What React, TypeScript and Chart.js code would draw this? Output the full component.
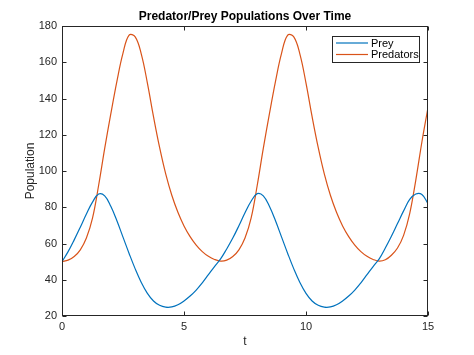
import React, { useEffect, useRef } from "react";
import { Chart, registerables } from "chart.js";

Chart.register(...registerables);

const timeValues = [
  0, 0.25, 0.5, 0.75, 1, 1.25, 1.5, 1.75, 2, 2.25, 2.5, 2.75, 3, 3.25, 3.5, 3.75,
  4, 4.25, 4.5, 4.75, 5, 5.25, 5.5, 5.75, 6, 6.25, 6.5, 6.75, 7, 7.25, 7.5, 7.75,
  8, 8.25, 8.5, 8.75, 9, 9.25, 9.5, 9.75, 10, 10.25, 10.5, 10.75, 11, 11.25, 11.5,
  11.75, 12, 12.25, 12.5, 12.75, 13, 13.25, 13.5, 13.75, 14, 14.25, 14.5, 14.75, 15,
];

const preyValues = [
  50, 55.5, 62, 69, 76.3, 82.8, 87.3, 86.3, 80.5, 72.5, 63.5, 54.5, 46, 38.5, 32.5, 28.3,
  25.9, 24.9, 25, 26.2, 28.3, 31, 34.3, 38.3, 42.8, 47.3,
  51.5, 57, 63, 69.8, 77, 83.3, 87.5, 86.3, 80.5, 72.5, 63.5, 54.5, 46, 38.5, 32.5, 28.3,
  25.9, 24.9, 25, 26.2, 28.3, 31, 34.3, 38.3, 42.8, 47.3,
  51.5, 57.5, 64, 71, 78, 84.3, 87.3, 87, 82,
];

const predatorValues = [
  50, 50.8, 52.8, 56.5, 63, 74, 92, 112.5, 131.5, 149.5, 165, 175, 174, 164.5, 148.5, 130,
  113, 98.4, 86.6, 77.2, 69.7, 63.8, 59.1, 55.5, 52.9, 51.2,
  50.3, 50.8, 52.8, 56.5, 63, 74, 92, 112.5, 131.5, 149.5, 165, 175, 174, 164.5, 148.5, 130,
  113, 98.4, 86.6, 77.2, 69.7, 63.8, 59.1, 55.5, 52.9, 51.2,
  50.3, 51, 53.5, 57.5, 64.5, 76.5, 95, 116, 135,
];

const xTickValues = [0, 5, 10, 15];
const yTickValues = [20, 40, 60, 80, 100, 120, 140, 160, 180];
const seriesLabels = ["Prey", "Predators"];
const seriesColors = ["#0072BD", "#D95319"];
const chartTitle = "Predator/Prey Populations Over Time";
const xAxisTitle = "t";
const yAxisTitle = "Population";

const FONT = '"Liberation Sans", Arial, Helvetica, sans-serif';
const AXIS_COLOR = "#262626";

const decorPlugin = {
  id: "matlabDecor",
  afterDatasetsDraw(chart: any) {
    const { ctx, chartArea: a, scales } = chart;
    const L = Math.round(a.left) + 0.5;
    const R = Math.round(a.right) - 0.5;
    const T = Math.round(a.top) + 0.5;
    const B = Math.round(a.bottom) - 0.5;
    ctx.save();
    ctx.strokeStyle = AXIS_COLOR;
    ctx.lineWidth = 1;
    ctx.strokeRect(L, T, R - L, B - T);
    const tl = 4;
    ctx.beginPath();
    xTickValues.forEach((v) => {
      const px = Math.round(scales.x.getPixelForValue(v)) + 0.5;
      ctx.moveTo(px, B);
      ctx.lineTo(px, B - tl);
      ctx.moveTo(px, T);
      ctx.lineTo(px, T + tl);
    });
    yTickValues.forEach((v) => {
      const py = Math.round(scales.y.getPixelForValue(v)) + 0.5;
      ctx.moveTo(L, py);
      ctx.lineTo(L + tl, py);
      ctx.moveTo(R, py);
      ctx.lineTo(R - tl, py);
    });
    ctx.stroke();

    // legend
    const lx = 332.5, ly = 36.5, lw = 87, lh = 26;
    ctx.fillStyle = "#ffffff";
    ctx.fillRect(lx, ly, lw, lh);
    ctx.strokeStyle = AXIS_COLOR;
    ctx.strokeRect(lx, ly, lw, lh);
    ctx.font = `11px ${FONT}`;
    ctx.textAlign = "left";
    ctx.textBaseline = "middle";
    seriesLabels.forEach((label, i) => {
      const y = 43 + i * 11.5;
      ctx.strokeStyle = seriesColors[i];
      ctx.lineWidth = 1.2;
      ctx.beginPath();
      ctx.moveTo(336, y);
      ctx.lineTo(368, y);
      ctx.stroke();
      ctx.fillStyle = "#000000";
      ctx.fillText(label, 371, y + 0.5);
    });

    // titles
    const cx = (a.left + a.right) / 2;
    const cy = (a.top + a.bottom) / 2;
    ctx.fillStyle = "#000000";
    ctx.font = `bold 12px ${FONT}`;
    ctx.textAlign = "center";
    ctx.textBaseline = "middle";
    ctx.fillText(chartTitle, cx, 16.5);
    ctx.fillStyle = AXIS_COLOR;
    ctx.font = `12px ${FONT}`;
    ctx.fillText(xAxisTitle, cx, 342);
    ctx.save();
    ctx.translate(31, cy);
    ctx.rotate(-Math.PI / 2);
    ctx.fillText(yAxisTitle, 0, 0);
    ctx.restore();
    ctx.restore();
  },
};

export default function App() {
  const canvasRef = useRef<HTMLCanvasElement | null>(null);

  useEffect(() => {
    const canvas = canvasRef.current;
    if (!canvas) return;
    const makeData = (vals: number[]) => timeValues.map((t, i) => ({ x: t, y: vals[i] }));
    const chart = new Chart(canvas, {
      type: "line",
      data: {
        datasets: [
          {
            label: seriesLabels[0],
            data: makeData(preyValues),
            borderColor: seriesColors[0],
            borderWidth: 1.2,
            pointRadius: 0,
            fill: false,
            tension: 0.4,
          },
          {
            label: seriesLabels[1],
            data: makeData(predatorValues),
            borderColor: seriesColors[1],
            borderWidth: 1.2,
            pointRadius: 0,
            fill: false,
            tension: 0.4,
          },
        ],
      },
      options: {
        responsive: false,
        animation: false,
        events: [],
        layout: { padding: { top: 26, right: 46, bottom: 0, left: 0 } },
        plugins: {
          legend: { display: false },
          title: { display: false },
          tooltip: { enabled: false },
        },
        scales: {
          x: {
            type: "linear",
            min: 0,
            max: 15,
            grid: { display: false, drawTicks: false },
            border: { display: false },
            afterBuildTicks: (s: any) => {
              s.ticks = xTickValues.map((v) => ({ value: v }));
            },
            afterFit: (s: any) => {
              s.height = 39;
            },
            ticks: {
              autoSkip: false,
              maxRotation: 0,
              padding: 4,
              color: AXIS_COLOR,
              font: { family: FONT, size: 11 },
            },
          },
          y: {
            type: "linear",
            min: 20,
            max: 180,
            grid: { display: false, drawTicks: false },
            border: { display: false },
            afterBuildTicks: (s: any) => {
              s.ticks = yTickValues.map((v) => ({ value: v }));
            },
            afterFit: (s: any) => {
              s.width = 62;
            },
            ticks: {
              autoSkip: false,
              padding: 5,
              color: AXIS_COLOR,
              font: { family: FONT, size: 11 },
            },
          },
        },
      } as any,
      plugins: [decorPlugin],
    });
    return () => chart.destroy();
  }, []);

  return (
    <div style={{ position: "absolute", left: 0, top: 0, width: 474, height: 355, background: "#ffffff" }}>
      <canvas ref={canvasRef} width={474} height={355} />
    </div>
  );
}
